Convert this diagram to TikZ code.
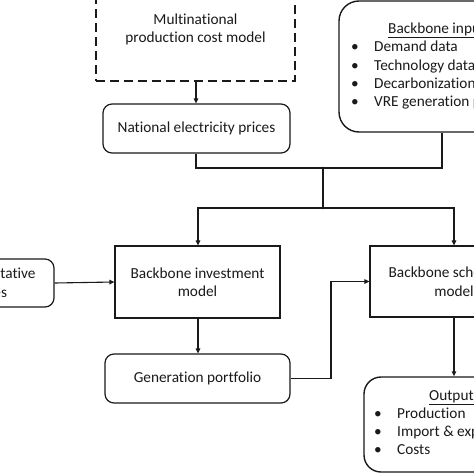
\documentclass[tikz,border=0pt]{standalone}
\usepackage{fontspec}
\setmainfont{Carlito}[Ligatures={NoCommon}]
\usetikzlibrary{arrows.meta}
\definecolor{ink}{HTML}{1A1A1A}
\tikzset{
  x=1pt, y=-1pt,
  every node/.style={text=ink, font=\fontsize{15.3}{18.5}\selectfont},
  sqbox/.style={draw=ink, line width=1.2pt, align=center, inner sep=0pt},
  rbox/.style={draw=ink, line width=1.2pt, rounded corners=9pt, align=center, inner sep=0pt},
  bigbox/.style={draw=ink, line width=1.4pt, rounded corners=20pt, inner sep=0pt},
  dashbox/.style={draw=ink, line width=1.2pt, dash pattern=on 9pt off 5pt, align=center, inner sep=0pt},
  conn/.style={draw=ink, line width=1.1pt},
  arr/.style={conn, -{Triangle[length=5pt,width=4.5pt]}},
  txt/.style={inner sep=0pt, anchor=mid west},
  bul/.style={inner sep=0pt, anchor=mid},
  jdot/.style={fill=ink}
}
\begin{document}
\begin{tikzpicture}
\useasboundingbox (0,0) rectangle (474,474);
\clip (0,0) rectangle (474,474);
\fill[white] (0,0) rectangle (474,474);

% boxes
\node[dashbox, minimum width=199pt, minimum height=103pt] (mpc) at (195.5,29.5) {Multinational\\production cost model};
\node[rbox, minimum width=187pt, minimum height=49pt] (nat) at (196.5,128.5) {National electricity prices};
\node[bigbox, minimum width=202pt, minimum height=131pt] (inp) at (440,66.5) {};
\node[rbox, minimum width=130pt, minimum height=48pt] (rep) at (-11,283) {Representative\\series};
\node[sqbox, minimum width=165pt, minimum height=72pt] (inv) at (197.5,282) {Backbone investment\\model};
\node[sqbox, minimum width=168pt, minimum height=71pt] (sch) at (454,281.5) {Backbone scheduling\\model};
\node[rbox, minimum width=185pt, minimum height=49pt] (gen) at (197.5,378.5) {Generation portfolio};
\node[bigbox, rounded corners=17pt, minimum width=180pt, minimum height=95pt] (out) at (454,424.5) {};

% inputs text
\node[txt] (inpt) at (388,31) {\underline{Backbone inputs}};
\node[bul] (ib1) at (355,49) {•};
\node[bul] (ib2) at (355,68) {•};
\node[bul] (ib3) at (355,86) {•};
\node[bul] (ib4) at (355,104) {•};
\node[txt] (i1) at (374,49) {Demand data};
\node[txt] (i2) at (374,68) {Technology data};
\node[txt] (i3) at (374,86) {Decarbonization targets};
\node[txt] (i4) at (374,104) {VRE generation profiles};

% outputs text
\node[txt] (outt) at (429,398) {\underline{Outputs}};
\node[bul] (ob1) at (378,416) {•};
\node[bul] (ob2) at (378,434) {•};
\node[bul] (ob3) at (378,452) {•};
\node[txt] (o1) at (397,416) {Production};
\node[txt] (o2) at (397,434) {Import \& export};
\node[txt] (o3) at (397,452) {Costs};

% junctions
\coordinate (j1) at (323,168);
\coordinate (j2) at (323,208);
\coordinate (a1) at (196,168);
\coordinate (a2) at (442,168);

% connectors
\draw[arr] (mpc.south -| 196,0) -- (nat.north -| 196,0);
\draw[conn] (nat.south -| a1) -- (a1) -- (a2) -- (inp.south -| a2);
\draw[conn] (j1) -- (j2);
\draw[arr] (j2) -| (inv.north -| 198,0);
\draw[arr] (j2) -| (sch.north);
\fill[jdot] (j1) circle (1.3pt);
\fill[jdot] (j2) circle (1.3pt);
\draw[arr] (rep.east) -- (inv.west);
\draw[arr] (inv.south -| 198,0) -- (gen.north -| 198,0);
\draw[arr] (gen.east) -- (331,378.5) |- (sch.west);
\draw[arr] (sch.south) -- (out.north);
\end{tikzpicture}
\end{document}
